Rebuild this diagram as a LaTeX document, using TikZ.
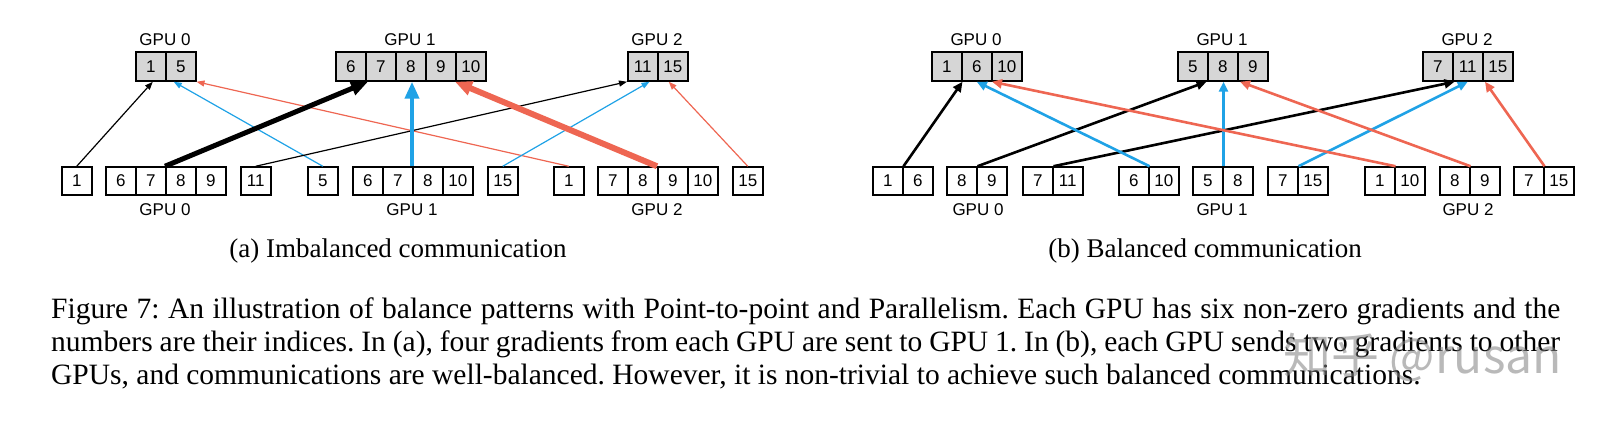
\documentclass[tikz,border=0pt]{standalone}
\usepackage{fontspec}
\setmainfont{Liberation Serif}
\newfontfamily\dsans{Liberation Sans}
\newfontfamily\cjk{Noto Sans CJK SC}
\usetikzlibrary{arrows.meta}
\definecolor{cblue}{HTML}{1FA2E6}
\definecolor{cred}{HTML}{EE6652}
\definecolor{cgray}{HTML}{D6D6D6}
\tikzset{
  cell/.style={draw, line width=1.5pt, minimum width=30pt, minimum height=28pt, inner sep=0pt, anchor=west, font=\dsans\fontsize{17}{17}\selectfont},
  topcell/.style={cell, fill=cgray, minimum height=29pt},
  lab/.style={font=\dsans\fontsize{17}{17}\selectfont},
  thin/.style={line width=1.2pt, -{Triangle[length=8pt,width=6pt]}},
  med/.style={line width=2.6pt, -{Triangle[length=10pt,width=9pt]}},
  thick/.style={line width=#1, -{Triangle[length=17pt,width=14pt]}},
  capline/.style={anchor=base west, inner sep=0pt, font=\fontsize{29.5}{33}\selectfont\frenchspacing},
  subcap/.style={font=\fontsize{27}{30}\selectfont},
}
\newcommand{\mycellrow}[5]{%
  \foreach \v [count=\i] in {#5} {
    \node[#1] (#2-\i) at ({#3+30*(\i-1)},#4) {\v};
  }%
}
\begin{document}
\begin{tikzpicture}[x=1pt,y=-1pt]
\useasboundingbox (0,0) rectangle (1615,427);
% ---------- (a) ----------
\mycellrow{topcell}{ta}{135}{66.5}{1,5}
\mycellrow{topcell}{tb}{335}{66.5}{6,7,8,9,10}
\mycellrow{topcell}{tc}{627}{66.5}{11,15}
\node[lab] (la0) at (165,40) {GPU 0};
\node[lab] (la1) at (410,40) {GPU 1};
\node[lab] (la2) at (657,40) {GPU 2};
\mycellrow{cell}{ba}{61}{181}{1}
\mycellrow{cell}{bb}{105}{181}{6,7,8,9}
\mycellrow{cell}{bc}{240}{181}{11}
\mycellrow{cell}{bd}{307}{181}{5}
\mycellrow{cell}{be}{352}{181}{6,7,8,10}
\mycellrow{cell}{bf}{487}{181}{15}
\mycellrow{cell}{bg}{553}{181}{1}
\mycellrow{cell}{bh}{597}{181}{7,8,9,10}
\mycellrow{cell}{bi}{732}{181}{15}
\node[lab] (lb0) at (165,210) {GPU 0};
\node[lab] (lb1) at (412,210) {GPU 1};
\node[lab] (lb2) at (657,210) {GPU 2};
\draw[thin] (ba-1.north) -- ([xshift=2pt]ta-1.south);
\draw[thin, cblue] (bd-1.north) -- ([xshift=-7pt]ta-2.south);
\draw[thin, cred] (bg-1.north) -- (ta-2.south east);
\draw[thin] (bc-1.north) -- (tc-1.south west);
\draw[thin, cblue] (bf-1.north) -- ([xshift=-9pt]tc-1.south east);
\draw[thin, cred] (bi-1.north) -- ([xshift=-4pt]tc-2.south);
\draw[thick=5pt] (bb-3.north west) -- ([xshift=3pt]tb-2.south west);
\draw[thick=4pt, cblue] (be-3.north west) -- (be-3.north west |- tb-3.south);
\draw[thick=6pt, cred] (bh-3.north west) -- (tb-5.south west);
\node[subcap] (capa) at (398,251) {(a) Imbalanced communication};
% ---------- (b) ----------
\mycellrow{topcell}{ua}{931}{66.5}{1,6,10}
\mycellrow{topcell}{ub}{1177}{66.5}{5,8,9}
\mycellrow{topcell}{uc}{1422}{66.5}{7,11,15}
\node[lab] (ma0) at (976,40) {GPU 0};
\node[lab] (ma1) at (1222,40) {GPU 1};
\node[lab] (ma2) at (1467,40) {GPU 2};
\mycellrow{cell}{va}{872}{181}{1,6}
\mycellrow{cell}{vb}{946}{181}{8,9}
\mycellrow{cell}{vc}{1022}{181}{7,11}
\mycellrow{cell}{vd}{1118}{181}{6,10}
\mycellrow{cell}{ve}{1192}{181}{5,8}
\mycellrow{cell}{vf}{1267}{181}{7,15}
\mycellrow{cell}{vg}{1364}{181}{1,10}
\mycellrow{cell}{vh}{1439}{181}{8,9}
\mycellrow{cell}{vi}{1513}{181}{7,15}
\node[lab] (mb0) at (978,210) {GPU 0};
\node[lab] (mb1) at (1222,210) {GPU 1};
\node[lab] (mb2) at (1468,210) {GPU 2};
\draw[med] (va-1.north east) -- (ua-1.south east);
\draw[med] (vb-1.north east) -- ([xshift=-2pt]ub-1.south east);
\draw[med] (vc-1.north east) -- ([xshift=1pt]uc-1.south east);
\draw[med, cblue] (vd-1.north east) -- (ua-2.south);
\draw[med, cblue] (ve-1.north east) -- (ve-1.north east |- ub-2.south);
\draw[med, cblue] (vf-1.north east) -- (uc-2.south);
\draw[med, cred] (vg-1.north east) -- ([xshift=1pt]ua-3.south west);
\draw[med, cred] (vh-1.north east) -- ([xshift=3pt]ub-3.south west);
\draw[med, cred] (vi-1.north east) -- ([xshift=3pt]uc-3.south west);
\node[subcap] (capb) at (1205,251) {(b) Balanced communication};
% ---------- caption ----------
\node[capline] (c1) at (51,319) {\makebox[1509pt][s]{Figure 7: An illustration of balance patterns with Point-to-point and Parallelism. Each GPU has six non-zero gradients and the}};
\node[capline] (c2) at (51,352) {\makebox[1509pt][s]{numbers are their indices. In (a), four gradients from each GPU are sent to GPU 1. In (b), each GPU sends two gradients to other}};
\node[capline] (c3) at (51,385) {GPUs, and communications are well-balanced. However, it is non-trivial to achieve such balanced communications.};
\node[anchor=base west, inner sep=0pt, text=gray, opacity=0.55] (wm) at (1283,374) {\cjk\fontsize{48}{48}\selectfont 知乎 @rusan};
\end{tikzpicture}
\end{document}
